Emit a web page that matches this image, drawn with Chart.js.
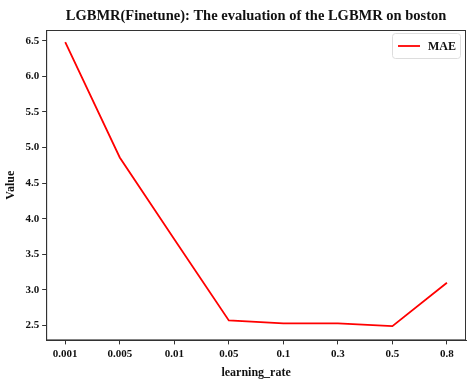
<!DOCTYPE html>
<html>
<head>
<meta charset="utf-8">
<script src="https://cdn.jsdelivr.net/npm/chart.js@4.4.0/dist/chart.umd.min.js"></script>
<style>
  html, body { margin: 0; padding: 0; background: #fff; }
  #wrap { width: 474px; height: 382px; }
</style>
</head>
<body>
<div id="wrap"><canvas id="myChart"></canvas></div>
<script>
const learningRates = ['0.001', '0.005', '0.01', '0.05', '0.1', '0.3', '0.5', '0.8'];
const maeValues = [6.48, 4.86, 3.71, 2.57, 2.53, 2.53, 2.49, 3.10];
const yTicks = [2.5, 3.0, 3.5, 4.0, 4.5, 5.0, 5.5, 6.0, 6.5];
const chartTitle = 'LGBMR(Finetune): The evaluation of the LGBMR on boston';

const FONT = '"Liberation Serif", "Times New Roman", serif';

// title centred over the plot, frame around the plot, legend in upper right
const framePlugin = {
    id: 'frame',
    afterDraw(chart) {
        const c = chart.ctx;
        const a = chart.chartArea;
        c.save();
        c.fillStyle = '#111';
        c.font = 'bold 14.5px ' + FONT;
        c.textAlign = 'center';
        c.textBaseline = 'middle';
        c.fillText(chartTitle, (a.left + a.right) / 2, 16);

        c.strokeStyle = '#333';
        c.lineWidth = 1;
        c.strokeRect(a.left + 0.5, a.top + 0.5, a.right - a.left - 1, a.bottom - a.top - 1);

        const ds = chart.data.datasets[0];
        const w = 68, h = 25;
        const x = a.right - w - 6, y = a.top + 3;
        c.fillStyle = 'rgba(255,255,255,0.8)';
        c.strokeStyle = '#ddd';
        c.beginPath();
        c.roundRect(x + 0.5, y + 0.5, w, h, 3);
        c.fill();
        c.stroke();
        c.strokeStyle = ds.borderColor;
        c.lineWidth = 1.8;
        c.beginPath();
        c.moveTo(x + 6, y + h / 2 + 0.5);
        c.lineTo(x + 28, y + h / 2 + 0.5);
        c.stroke();
        c.fillStyle = '#111';
        c.font = 'bold 12px ' + FONT;
        c.textAlign = 'left';
        c.fillText(ds.label, x + 36, y + h / 2 + 1);
        c.restore();
    }
};

const ctx = document.getElementById('myChart').getContext('2d');
const myChart = new Chart(ctx, {
    type: 'line',
    data: {
        datasets: [{
            label: 'MAE',
            data: maeValues.map((v, i) => ({ x: i, y: v })),
            borderColor: '#ff0000',
            borderWidth: 1.8,
            pointRadius: 0,
            tension: 0,
            fill: false
        }]
    },
    options: {
        responsive: true,
        maintainAspectRatio: false,
        animation: false,
        layout: { padding: { left: 4, right: 8, top: 30, bottom: 2 } },
        plugins: {
            legend: { display: false },
            tooltip: { enabled: false },
            title: { display: false }
        },
        scales: {
            x: {
                type: 'linear',
                min: -0.35,
                max: learningRates.length - 1 + 0.35,
                afterBuildTicks: s => { s.ticks = learningRates.map((_, i) => ({ value: i })); },
                ticks: {
                    callback: v => learningRates[v],
                    color: '#111',
                    font: { family: FONT, size: 11, weight: 'bold' },
                    padding: 3,
                    maxRotation: 0
                },
                grid: { drawOnChartArea: false, drawTicks: true, tickLength: 4, color: '#333' },
                border: { display: true, color: '#333' },
                title: {
                    display: true,
                    text: 'learning_rate',
                    color: '#111',
                    font: { family: FONT, size: 12, weight: 'bold' },
                    padding: { top: 2, bottom: 0 }
                }
            },
            y: {
                min: 2.29,
                max: 6.65,
                afterBuildTicks: s => { s.ticks = yTicks.map(v => ({ value: v })); },
                ticks: {
                    callback: v => v.toFixed(1),
                    color: '#111',
                    font: { family: FONT, size: 11, weight: 'bold' },
                    padding: 3
                },
                grid: { drawOnChartArea: false, drawTicks: true, tickLength: 4, color: '#333' },
                border: { display: true, color: '#333' },
                title: {
                    display: true,
                    text: 'Value',
                    color: '#111',
                    font: { family: FONT, size: 12, weight: 'bold' },
                    padding: { top: 0, bottom: 4 }
                }
            }
        }
    },
    plugins: [framePlugin]
});
</script>
</body>
</html>
